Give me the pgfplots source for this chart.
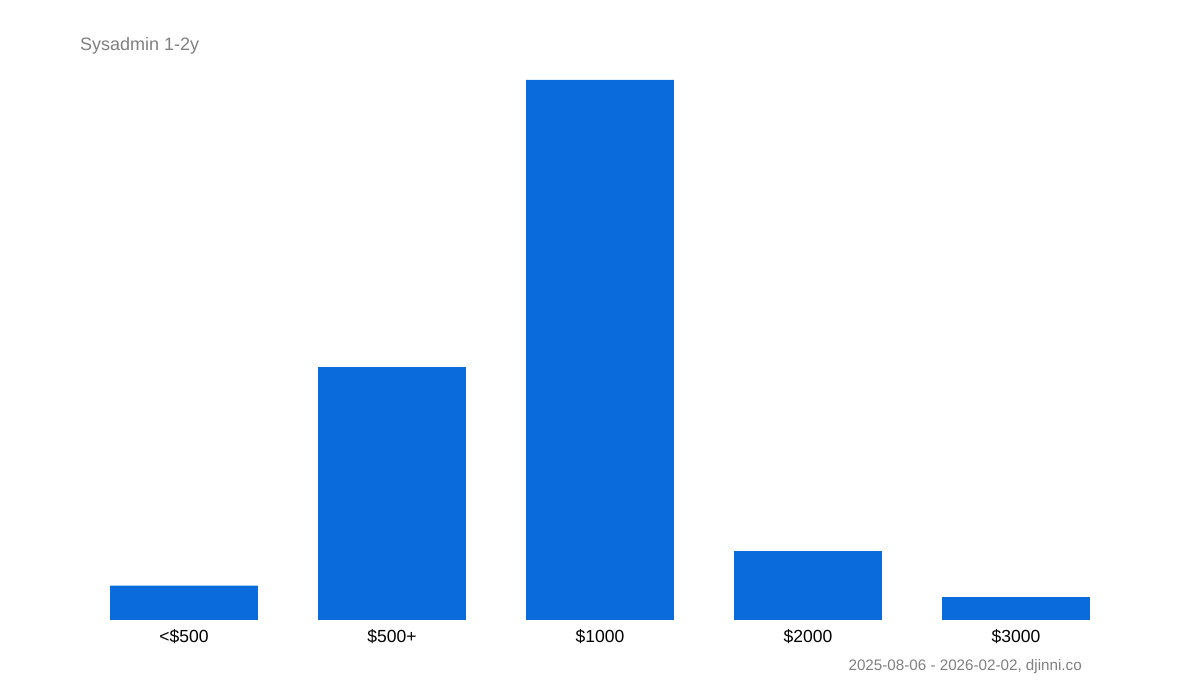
\documentclass[border=0pt]{standalone}
\usepackage{pgfplots}
\pgfplotsset{compat=1.18}
\usepackage{fontspec}
\setmainfont{Liberation Sans}
\definecolor{barblue}{RGB}{10,108,220}
\definecolor{txtgray}{RGB}{128,128,128}
\begin{document}
\begin{tikzpicture}[x=1pt,y=1pt]
\path[use as bounding box] (0,0) rectangle (1200,700);
\begin{axis}[
  at={(80pt,80pt)}, anchor=south west,
  scale only axis, width=1040pt, height=540pt,
  xmin=-0.5, xmax=4.5, ymin=0, ymax=47,
  axis line style={draw=none},
  ytick=\empty,
  xtick=data,
  xticklabels={<\$500,\$500+,\$1000,\$2000,\$3000},
  major tick length=0pt,
  xticklabel style={font=\fontsize{17.5}{20}\selectfont, text=black, inner sep=0pt, anchor=base, yshift=-23pt},
  clip=false,
]
\addplot[ybar, bar width=0.71, fill=barblue, draw=none] coordinates {(0,3) (1,22) (2,47) (3,6) (4,2)};
\end{axis}
\node[anchor=base west, text=txtgray, font=\fontsize{18}{21}\selectfont, inner sep=0pt] at (80,649) {Sysadmin 1-2y};
\node[anchor=base east, text=txtgray, font=\fontsize{15.2}{18}\selectfont, inner sep=0pt] at (1082,29) {2025-08-06 - 2026-02-02, djinni.co};
\end{tikzpicture}
\end{document}
